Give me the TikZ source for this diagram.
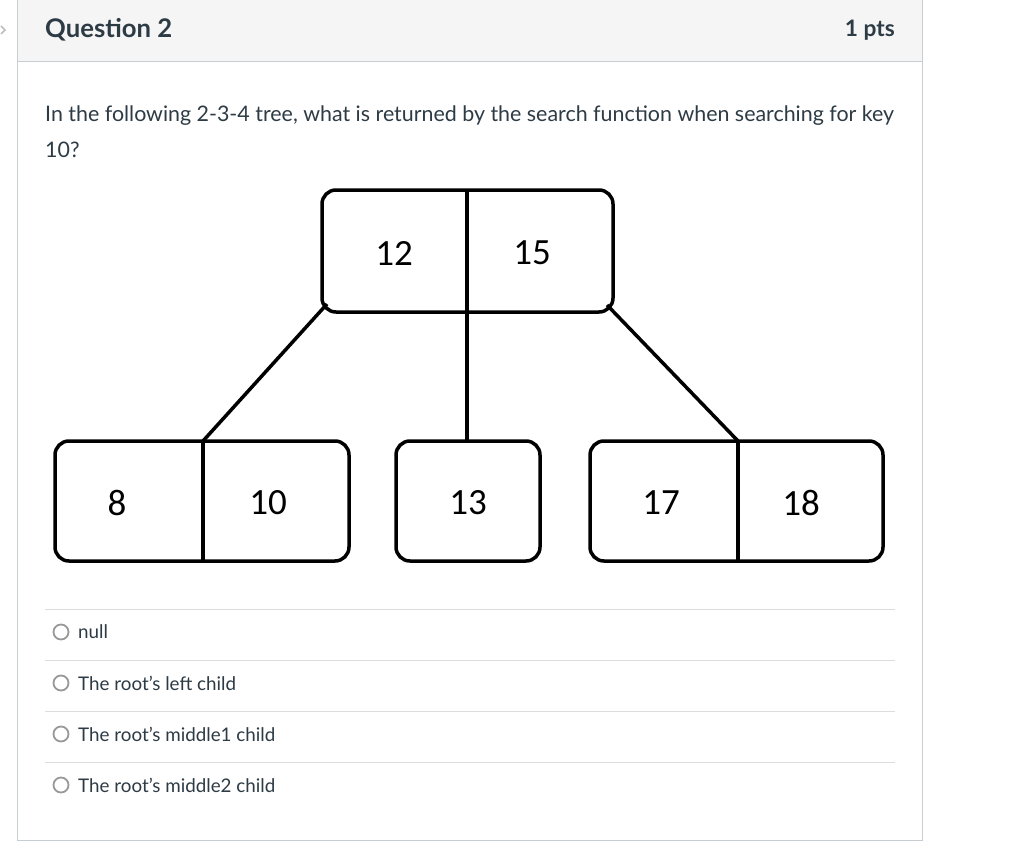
\documentclass[tikz,border=0pt]{standalone}
\usepackage{fontspec}
\setmainfont{Lato}
\newfontfamily\carl{Carlito}
\definecolor{txt}{HTML}{2D3B45}
\definecolor{hdr}{HTML}{F5F5F5}
\definecolor{frm}{HTML}{C7CDD1}
\definecolor{sep}{HTML}{DDDDDD}
\begin{document}
\begin{tikzpicture}[x=1pt,y=-1pt,
  cell/.style={draw=black,line width=3.5pt,rounded corners=14pt},
  num/.style={font=\carl\fontsize{37}{37}\selectfont},
  opt/.style={anchor=west,text=txt,font=\fontsize{18.8}{22}\selectfont,inner sep=0pt},
  radio/.style={draw=gray!80,line width=1.8pt,circle,minimum size=15pt,inner sep=0pt}]
\useasboundingbox (0,0) rectangle (1024,856);
\fill[white] (0,0) rectangle (1024,856);
\fill[hdr] (17,0) rectangle (922,62);
\draw[frm,line width=1pt] (17,0) rectangle (922,840);
\draw[frm,line width=1pt] (17,62) -- (922,62);
\draw[gray!50,line width=1.5pt] (1,26) -- (5,30) -- (1,34);
\node[anchor=west,text=txt,font=\bfseries\fontsize{25.7}{28}\selectfont,inner sep=0pt] (q) at (45,30) {Question 2};
\node[anchor=east,text=txt,font=\bfseries\fontsize{22.7}{26}\selectfont,inner sep=0pt] (p) at (895,30) {1 pts};
\node[anchor=west,text=txt,font=\fontsize{21.4}{24}\selectfont,inner sep=0pt] (t1) at (45,116) {In the following 2-3-4 tree, what is returned by the search function when searching for key};
\node[anchor=west,text=txt,font=\fontsize{21.4}{24}\selectfont,inner sep=0pt] (t2) at (45,150) {10?};
% root
\draw[cell] (322,190) rectangle (613,312);
\draw[line width=3.5pt] (467,190) -- (467,312);
\node[num] (r1) at (394,253) {12};
\node[num] (r2) at (532,253) {15};
% left
\draw[cell] (55,441) rectangle (349,561);
\draw[line width=3.5pt] (203,441) -- (203,561);
\node[num] (l1) at (117,503) {8};
\node[num] (l2) at (268,503) {10};
% middle
\draw[cell] (396,441) rectangle (540,561);
\node[num] (m1) at (468,503) {13};
% right
\draw[cell] (590,441) rectangle (883,561);
\draw[line width=3.5pt] (738,441) -- (738,561);
\node[num] (g1) at (661,503) {17};
\node[num] (g2) at (801,503) {18};
\coordinate (a1) at (327,304); \coordinate (b1) at (203,441);
\coordinate (a2) at (467,312); \coordinate (b2) at (467,441);
\coordinate (a3) at (607,305); \coordinate (b3) at (738,441);
\draw[line width=3.5pt] (a1) -- (b1);
\draw[line width=3.5pt] (a2) -- (b2);
\draw[line width=3.5pt] (a3) -- (b3);
% options
\foreach \y in {609,660,711,762} \draw[sep,line width=1pt] (45,\y) -- (895,\y);
\node[radio] (c1) at (61,632) {}; \node[opt] (o1) at (78,632) {null};
\node[radio] (c2) at (61,683) {}; \node[opt] (o2) at (78,683) {The root’s left child};
\node[radio] (c3) at (61,734) {}; \node[opt] (o3) at (78,734) {The root’s middle1 child};
\node[radio] (c4) at (61,785) {}; \node[opt] (o4) at (78,785) {The root’s middle2 child};
\end{tikzpicture}
\end{document}
